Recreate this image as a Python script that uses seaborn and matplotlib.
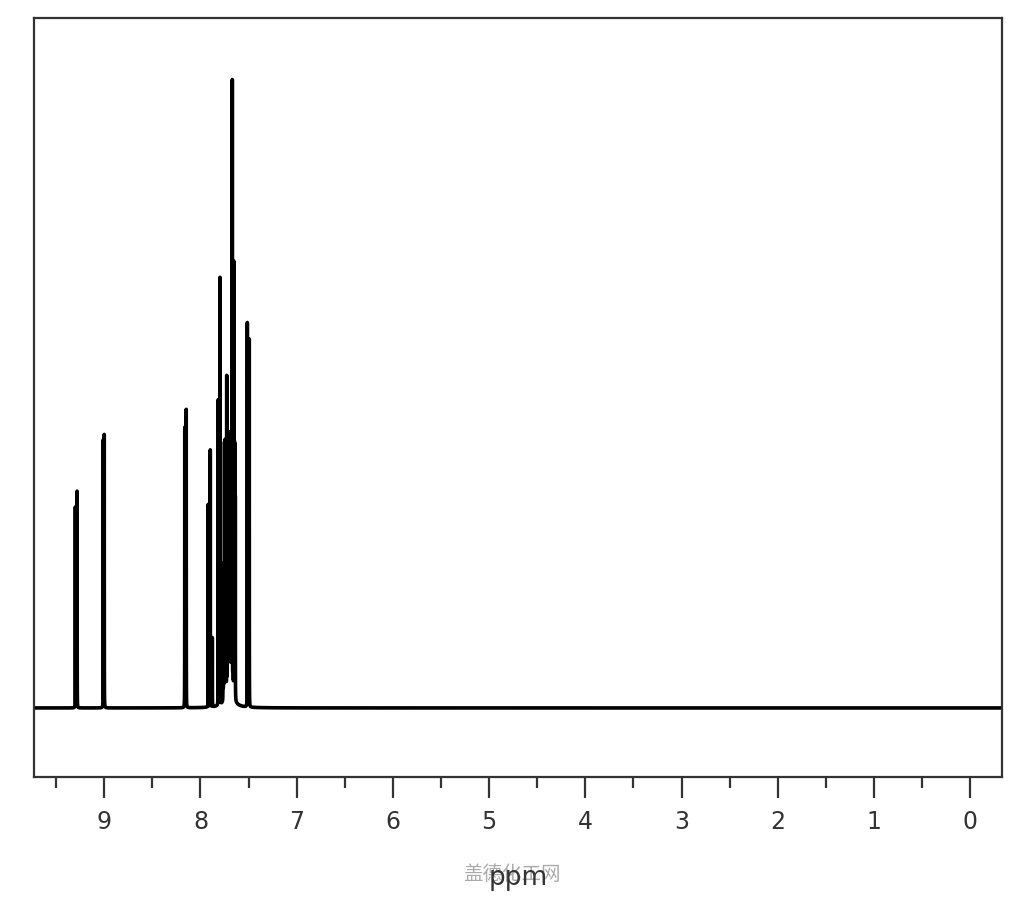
import numpy as np
import pandas as pd
import matplotlib
matplotlib.use("Agg")
import matplotlib.pyplot as plt
import seaborn as sns
from matplotlib.ticker import MultipleLocator

# ---- data (chemical shift in ppm, relative intensity) ----
peak_ppm = [9.300, 9.282, 9.010, 9.000, 8.163, 8.148,
            7.919, 7.898, 7.877, 7.815, 7.797, 7.765,
            7.760, 7.755, 7.750, 7.745, 7.740, 7.735,
            7.727, 7.720, 7.715, 7.710, 7.705, 7.700,
            7.695, 7.690, 7.685, 7.680, 7.675, 7.669,
            7.662, 7.654, 7.648, 7.643, 7.638, 7.513,
            7.493]
peak_height = [0.320, 0.345, 0.427, 0.435, 0.447, 0.476,
               0.323, 0.410, 0.110, 0.487, 0.683, 0.150,
               0.210, 0.210, 0.400, 0.400, 0.400, 0.400,
               0.505, 0.400, 0.400, 0.400, 0.400, 0.400,
               0.400, 0.400, 0.400, 0.400, 0.400, 0.975,
               0.400, 0.690, 0.400, 0.400, 0.320, 0.612,
               0.587]
peak_hwhm = 0.0006
hump_ppm = [7.70]
hump_height = [0.022]
hump_hwhm = [0.05]

x_ticks = [9, 8, 7, 6, 5, 4, 3, 2, 1, 0]
x_label = "ppm"
watermark = "盖德化工网"

# ---- build spectrum from the peak list ----
ppm = np.linspace(9.73, -0.33, 120000)
inten = np.zeros_like(ppm)
for c, h in zip(peak_ppm, peak_height):
    inten += h / (1 + ((ppm - c) / peak_hwhm) ** 2)
for c, h, w in zip(hump_ppm, hump_height, hump_hwhm):
    inten += h / (1 + ((ppm - c) / w) ** 2)
df = pd.DataFrame({"ppm": ppm, "intensity": inten})

sns.set_style("white")
plt.rcParams['font.family'] = ['DejaVu Sans', 'Noto Sans CJK SC']
plt.rcParams['path.simplify'] = False

fig = plt.figure(figsize=(10.24, 9.0), dpi=100)
ax = fig.add_axes([34 / 1024, 1 - 777 / 900, (1002 - 34) / 1024, (777 - 18) / 900])

sns.lineplot(data=df, x="ppm", y="intensity", ax=ax, color="black",
             linewidth=2.6, estimator=None, sort=False)

ax.set_xlim(9.73, -0.33)
ax.set_ylim(-0.11, 1.099)
ax.set_yticks([])
ax.set_ylabel("")
ax.set_xticks(x_ticks)
ax.set_xticklabels([str(t) for t in x_ticks])
ax.xaxis.set_minor_locator(MultipleLocator(0.5))
ax.tick_params(axis="x", which="major", direction="out", length=15, width=1.6,
               color="#333333", labelsize=17, labelcolor="#333333", pad=9, bottom=True)
ax.tick_params(axis="x", which="minor", direction="out", length=8, width=1.6,
               color="#333333", bottom=True)
for s in ax.spines.values():
    s.set_visible(True)
    s.set_color("#333333")
    s.set_linewidth(1.6)

ax.set_xlabel(x_label, fontsize=19, color="#333333", labelpad=22)
fig.text(512 / 1024, 1 - 874 / 900, watermark, ha="center", va="center",
         fontsize=14, color="#aaaaaa", family=["Noto Sans CJK SC", "DejaVu Sans"],
         zorder=-1)

fig.savefig("out.png", dpi=100, facecolor="white")
